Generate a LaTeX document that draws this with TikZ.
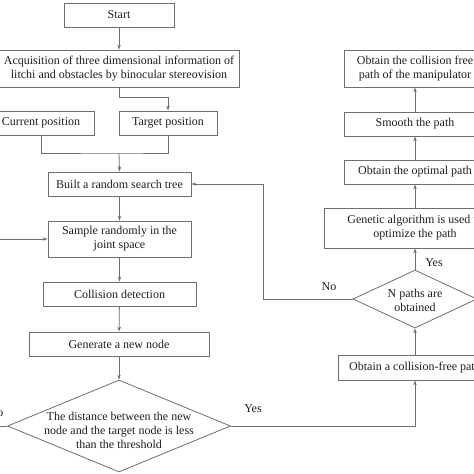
\documentclass[tikz,border=0pt]{standalone}
\usepackage{fontspec}
\setmainfont{Liberation Serif}
\usetikzlibrary{shapes.geometric,arrows.meta}
\definecolor{linegray}{RGB}{110,110,110}
\definecolor{textcol}{RGB}{30,30,30}
\begin{document}
\begin{tikzpicture}[x=1pt,y=-1pt,
  box/.style={draw=linegray, line width=0.8pt, rectangle, align=center, inner sep=0pt,
    font=\fontsize{12}{14}\selectfont, text=textcol},
  dia/.style={draw=linegray, line width=0.8pt, diamond, inner sep=0pt},
  lbl/.style={align=center, inner sep=0pt, font=\fontsize{12}{14}\selectfont, text=textcol},
  conn/.style={draw=linegray, line width=0.8pt},
  arr/.style={conn, -{Stealth[length=5pt,width=3.5pt]}}]
\useasboundingbox (0,0) rectangle (474,474);
\clip (0,0) rectangle (474,474);
% left column
\node[box, minimum width=110, minimum height=24] (start) at (119,15) {Start};
\node[box, minimum width=240, minimum height=37] (acq) at (119,68.5)
  {Acquisition of three dimensional information of\\litchi and obstacles by binocular stereovision};
\node[box, minimum width=106, minimum height=24] (cur) at (41,123) {Current position};
\node[box, minimum width=98, minimum height=24] (target) at (168,123) {Target position};
\node[box, minimum width=143, minimum height=24] (built) at (119.5,184) {Built a random search tree};
\node[box, minimum width=143, minimum height=36] (sample) at (119.5,239) {Sample randomly in the\\joint space};
\node[box, minimum width=153, minimum height=24] (coll) at (119.5,294) {Collision detection};
\node[box, minimum width=180, minimum height=24] (gen) at (119,344) {Generate a new node};
\node[dia, minimum width=223, minimum height=92] (d1) at (119,426) {};
\node[lbl] (d1t) at (119,430) {The distance between the new\\node and the target node is less\\than the threshold};
% right column
\node[box, minimum width=142, minimum height=37] (manip) at (415,68.5) {Obtain the collision free\\path of the manipulator};
\node[box, minimum width=142, minimum height=24] (smooth) at (415,124) {Smooth the path};
\node[box, minimum width=142, minimum height=24] (opt) at (415,172) {Obtain the optimal path};
\node[box, minimum width=182, minimum height=40] (gen2) at (415,228) {Genetic algorithm is used to\\optimize the path};
\node[dia, minimum width=124, minimum height=58] (d2) at (415,299) {};
\node[lbl] (d2t) at (415,300) {N paths are\\obtained};
\node[box, minimum width=154, minimum height=25] (cf) at (415,367.5) {Obtain a collision-free path};
% labels
\node[lbl] (yes1) at (253,409) {Yes};
\node[lbl] (yes2) at (434,263) {Yes};
\node[lbl] (no2) at (329,287) {No};
\node[lbl] (no1) at (-4,413) {No};
% connectors
\draw[arr] (start) -- (acq);
\draw[arr] (acq.south) -- ++(0,10) -| (target.north);
\coordinate (mj) at (119,153);
\draw[conn] (cur.south) |- (mj) -| (target.south);
\draw[arr] (mj) -- (built.north);
\draw[arr] (built) -- (sample);
\draw[arr] (sample) -- (coll);
\draw[arr] (coll) -- (gen);
\draw[arr] (gen) -- (d1.north);
\draw[arr] (d1.east) -| (cf.south);
\draw[arr] (d1.west) -- ++(-20,0) |- (sample.west);
\draw[arr] (cf.north) -- (d2.south);
\draw[arr] (d2.north) -- (gen2.south);
\draw[arr] (gen2) -- (opt);
\draw[arr] (opt) -- (smooth);
\draw[arr] (smooth) -- (manip);
\draw[arr] (d2.west) -- (263,299) |- (built.east);
\end{tikzpicture}
\end{document}
